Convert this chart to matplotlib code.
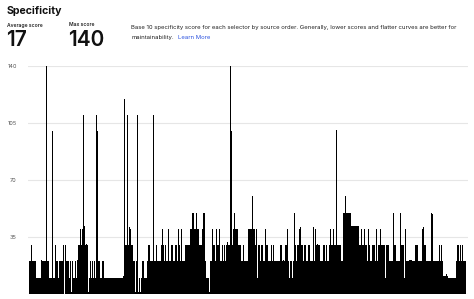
import matplotlib
matplotlib.use("Agg")
import matplotlib.pyplot as plt
import numpy as np

plt.rcParams['font.family'] = ['Inter', 'DejaVu Sans']

# specificity score of each selector, in source order
scores_a = [20, 20, 30, 20, 20, 20, 20, 10, 10, 10, 10, 10, 21, 20, 20, 20, 20,
            140, 20, 20, 10, 10, 10, 100, 10, 10, 10, 30,
            20, 20, 10, 20, 20, 20, 20, 30, 30, 20, 20, 20,
            10, 20, 1, 20, 10, 10, 20, 10, 21, 10,
            30, 30, 40, 30, 40, 110, 42, 30, 31, 30]
scores_b = [1, 10, 20, 10, 20, 10, 20, 10, 110, 100, 20, 20, 10, 10, 20, 20, 10,
            10, 10, 10, 10, 10, 10, 10, 10, 10, 10, 10, 10, 10, 10, 10, 10, 10, 10,
            11, 120, 30, 30, 110, 30, 41, 40, 30, 30, 20, 20, 1, 20, 110,
            1, 10, 1, 10, 20, 20, 10, 10, 10, 20]
scores_c = [30, 30, 20, 20, 20, 110, 20, 20, 30, 20, 20, 20, 20, 30, 40, 30,
            20, 30, 20, 20, 40, 20, 20, 30, 30, 20, 20, 30, 30, 20, 40, 30, 20,
            40, 20, 20, 20, 30, 30, 30, 30, 30, 40, 40, 50, 50, 40, 40, 50, 40,
            40, 30, 30, 30, 40, 50, 50, 20, 10, 10]
scores_d = [10, 1, 20, 20, 40, 30, 30, 20, 40, 30, 30, 40, 20, 20, 30, 20, 30,
            20, 30, 32, 30, 30, 140, 100, 30, 40, 50, 40, 40, 40, 30, 30, 30,
            20, 20, 30, 20, 20, 20, 20, 40, 40, 40, 40, 60, 40, 40, 30, 40, 10,
            30, 30, 20, 30, 30, 20, 20, 40, 30, 30]
scores_e = [20, 20, 20, 30, 20, 30, 20, 20, 20, 20,
            20, 20, 30, 30, 20, 21, 20, 30, 30, 40,
            20, 10, 20, 20, 10, 20, 50, 30, 20, 30,
            30, 40, 41, 30, 30, 20, 30, 30, 20, 20,
            30, 30, 20, 20, 20, 41, 20, 40, 30, 31,
            30, 30, 20, 20, 20, 30, 30, 20, 30, 20]
scores_f = [20, 30, 40, 30, 30, 40, 30, 30, 101, 30,
            30, 30, 30, 20, 20, 50, 50, 60, 50, 50,
            50, 50, 50, 42, 42, 42, 42, 42, 42, 42,
            42, 30, 30, 40, 30, 30, 40, 30, 30, 20,
            40, 30, 20, 20, 30, 30, 30, 20, 40, 20,
            30, 30, 40, 30, 30, 30, 30, 10, 30, 30]
scores_g = [30, 20, 20, 20, 20, 50, 30, 30, 20, 20,
            20, 20, 50, 30, 30, 30, 10, 40, 20, 20,
            20, 21, 21, 21, 20, 20, 20, 30, 30, 30,
            20, 20, 20, 20, 40, 41, 30, 30, 20, 20,
            20, 20, 20, 50, 49, 20, 20, 20, 20, 20,
            20, 30, 20, 30, 20, 11, 11, 11, 12, 11]
scores_h = [10, 10, 10, 10, 10, 10, 10, 10, 20, 30, 30, 20, 30, 20, 30, 20, 20, 20]

scores = scores_a + scores_b + scores_c + scores_d + scores_e + scores_f + scores_g + scores_h
ytick_vals = [35, 70, 105, 140]

avg_score = "17"
max_score = "140"

W, H = 474, 299
fig = plt.figure(figsize=(W / 100, H / 100), dpi=100)
fig.patch.set_facecolor('white')


def px(x, y):
    return x / W, 1 - y / H


# header
fig.text(*px(7, 14), "Specificity", fontsize=7.6, fontweight='bold', color='#111111', va='baseline')
fig.text(*px(7, 26.5), "Average score", fontsize=3.6, fontweight='semibold', color='#222222', va='baseline')
fig.text(*px(6, 45.5), avg_score, fontsize=15, fontweight='semibold', color='#111111', va='baseline')
fig.text(*px(69, 26.5), "Max score", fontsize=3.6, fontweight='semibold', color='#222222', va='baseline')
fig.text(*px(68, 45.5), max_score, fontsize=15, fontweight='semibold', color='#111111', va='baseline')
fig.text(*px(131, 28.5), "Base 10 specificity score for each selector by source order. Generally, lower scores "
         "and flatter curves are better for", fontsize=4.3, color='#222222', va='baseline')
fig.text(*px(131, 39), "maintainability.", fontsize=4.3, color='#222222', va='baseline')
fig.text(*px(178, 39), "Learn More", fontsize=4.3, color='#2f55e0', va='baseline')

# chart
ax = fig.add_axes([28 / W, 5 / H, 440 / W, 228 / H])
x = np.arange(len(scores))
ax.bar(x, scores, width=1.0, color='black', linewidth=0, zorder=2)
ax.set_xlim(-1, len(scores) + 1)
ax.set_ylim(0, 140)
ax.set_yticks(ytick_vals)
ax.set_yticklabels([str(v) for v in ytick_vals], fontsize=4, color='#555555')
ax.tick_params(axis='y', length=0, pad=8)
ax.set_xticks([])
ax.grid(axis='y', color='#e6e6e6', linewidth=0.8, zorder=0)
for s in ax.spines.values():
    s.set_visible(False)
ax.axhline(0, color='#bbbbbb', linewidth=0.8, zorder=1)

fig.savefig("out.png", dpi=100)
